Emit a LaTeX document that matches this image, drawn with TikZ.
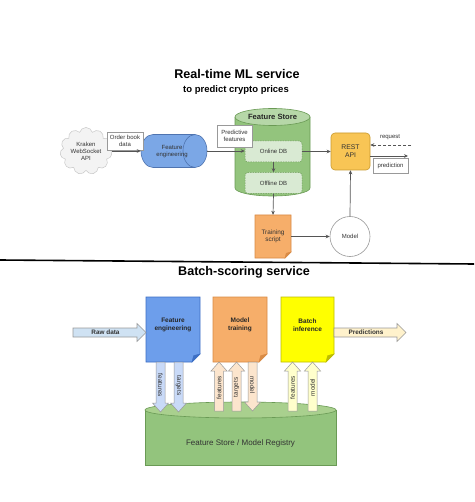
\documentclass[tikz,border=0pt]{standalone}
\usepackage{fontspec}
\setmainfont{Liberation Sans}
\usetikzlibrary{shapes.symbols,arrows.meta}
\definecolor{txt}{HTML}{333333}
\definecolor{connc}{HTML}{555555}
\definecolor{outline}{HTML}{999999}
\definecolor{cloudfill}{HTML}{F3F3F3}
\definecolor{cloudline}{HTML}{C8C8C8}
\definecolor{feblue}{HTML}{7BA7E6}
\definecolor{febluedk}{HTML}{4F74B0}
\definecolor{fsgreen}{HTML}{93C47D}
\definecolor{fsgreenlt}{HTML}{B6D7A8}
\definecolor{fsgreendk}{HTML}{6A9A55}
\definecolor{dbfill}{HTML}{D9EAD3}
\definecolor{restfill}{HTML}{F8C555}
\definecolor{restdk}{HTML}{C99A2E}
\definecolor{orangefill}{HTML}{F6AE6A}
\definecolor{orangedk}{HTML}{D98B45}
\definecolor{docblue}{HTML}{6D9EEB}
\definecolor{docbluedk}{HTML}{3D6FC4}
\definecolor{docyellow}{HTML}{FFFF00}
\definecolor{docyellowdk}{HTML}{BDBD00}
\definecolor{arrblue}{HTML}{C9DAF8}
\definecolor{arrpeach}{HTML}{FCE5CD}
\definecolor{arryellow}{HTML}{FFFFCC}
\definecolor{rawfill}{HTML}{CFE2F3}
\definecolor{predfill}{HTML}{FFF2CC}
\definecolor{regtop}{HTML}{A9D08E}

% document shape with folded bottom-right corner
\newcommand\docshape[7]{%
  \filldraw[fill=#6,draw=#7,line width=0.6pt] (#1,#2) -- (#3,#2) -- (#3,{#4-#5}) -- ({#3-#5},#4) -- (#1,#4) -- cycle;
  \filldraw[fill=#7,draw=#7,line width=0.4pt] ({#3-#5},#4) -- (#3,{#4-#5}) -- ({#3-0.8*#5},{#4-0.8*#5}) -- cycle;}
% horizontal fat arrow: x1 x2 yc fill name label
\newcommand\harrow[6]{%
  \filldraw[fill=#4,draw=outline,line width=0.6pt] (#1,{#3-4.5}) -- ({#2-9},{#3-4.5}) -- ({#2-9},{#3-9}) -- (#2,#3) -- ({#2-9},{#3+9}) -- ({#2-9},{#3+4.5}) -- (#1,{#3+4.5}) -- cycle;
  \node[fatlbl] (#5) at ({(#1+#2)/2-4},#3) {#6};}
% vertical fat arrow pointing down: x ytop ytip fill name label
\newcommand\vdownarr[6]{%
  \filldraw[fill=#4,draw=outline,line width=0.5pt] ({#1-4.5},#2) -- ({#1+4.5},#2) -- ({#1+4.5},{#3-9}) -- ({#1+8},{#3-9}) -- (#1,#3) -- ({#1-8},{#3-9}) -- ({#1-4.5},{#3-9}) -- cycle;
  \node[vlbl,rotate=-90] (#5) at (#1,{(#2+#3)/2-1.5}) {#6};}
% vertical fat arrow pointing up: x ytip ytail fill name label
\newcommand\vuparr[6]{%
  \filldraw[fill=#4,draw=outline,line width=0.5pt] ({#1-4.5},#3) -- ({#1-4.5},{#2+9}) -- ({#1-8},{#2+9}) -- (#1,#2) -- ({#1+8},{#2+9}) -- ({#1+4.5},{#2+9}) -- ({#1+4.5},#3) -- cycle;
  \node[vlbl,rotate=90] (#5) at (#1,{(#2+#3)/2+1}) {#6};}

\begin{document}
\begin{tikzpicture}[x=1pt,y=-1pt,
  conn/.style={draw=connc,line width=0.7pt,-{Stealth[length=4pt,width=3.6pt]}},
  lbl/.style={font=\fontsize{6}{6.9}\selectfont,text=txt,align=center,inner sep=0pt},
  smallbox/.style={lbl,draw=outline,fill=white,line width=0.5pt},
  dbbox/.style={lbl,draw=fsgreendk,fill=dbfill,rounded corners=3pt,dash pattern=on 1.5pt off 1pt,line width=0.5pt,minimum width=57,minimum height=21},
  titlefont/.style={font=\bfseries\fontsize{12.6}{14}\selectfont,text=black,inner sep=0pt,anchor=base},
  doctext/.style={font=\bfseries\fontsize{6.5}{7.8}\selectfont,text=black!85,align=center,inner sep=0pt},
  fatlbl/.style={font=\bfseries\fontsize{6.4}{7}\selectfont,text=black!80,inner sep=0pt},
  vlbl/.style={font=\fontsize{6.4}{7}\selectfont,text=txt,inner sep=0pt}
]
\useasboundingbox (0,0) rectangle (474,502);
\fill[white] (0,0) rectangle (474,502);

% ---------- Real-time ML service ----------
\node[titlefont] (title1) at (237,79) {Real-time ML service};
\node[titlefont,font=\bfseries\fontsize{9.5}{11}\selectfont] (sub1) at (236,93) {to predict crypto prices};

% Kraken cloud
\node[cloud,cloud puffs=11,aspect=1.1,draw=cloudline,fill=cloudfill,line width=0.5pt,
      minimum width=52,minimum height=47,lbl] (kraken) at (86,151) {Kraken\\WebSocket\\API};

% Feature engineering cylinder (horizontal)
\fill[feblue] (153,134.5) rectangle (195,167.5);
\fill[feblue] (153,151) ellipse[x radius=12,y radius=16.5];
\fill[feblue] (195,151) ellipse[x radius=12,y radius=16.5];
\draw[febluedk,line width=0.6pt] (195,134.5) -- (153,134.5) arc[start angle=270,end angle=90,x radius=12,y radius=16.5] -- (195,167.5);
\draw[febluedk,line width=0.6pt] (195,151) ellipse[x radius=12,y radius=16.5];
\node[inner sep=0pt,minimum width=66,minimum height=33] (fe) at (174,151) {};
\node[lbl] (fetext) at (172,152) {Feature\\engineering};

% Feature Store cylinder
\fill[fsgreen] (235,117) -- (235,188) arc[start angle=180,end angle=0,x radius=37.5,y radius=8] -- (310,117) -- cycle;
\draw[fsgreendk,line width=0.6pt] (235,117) -- (235,188) arc[start angle=180,end angle=0,x radius=37.5,y radius=8] -- (310,117);
\filldraw[fill=fsgreenlt,draw=fsgreendk,line width=0.6pt] (272.5,117) ellipse[x radius=37.5,y radius=8.5];
\node[font=\bfseries\fontsize{7.6}{9}\selectfont,text=black!85,inner sep=0pt] (fstitle) at (272.5,117) {Feature Store};
\node[dbbox] (online) at (273.5,151.5) {Online DB};
\node[dbbox] (offline) at (273.5,183) {Offline DB};

% label boxes
\node[smallbox,minimum width=36,minimum height=18] (obd) at (125,141) {Order book\\data};
\node[smallbox,minimum width=35,minimum height=22] (pf) at (234.5,136) {Predictive\\features};

% training script
\docshape{255}{215}{291}{258}{6}{orangefill}{orangedk}
\node[lbl,minimum width=36,minimum height=43,font=\fontsize{6.4}{7.6}\selectfont] (train) at (273,236.5) {Training\\script};

% model and REST API
\node[circle,draw=outline,fill=white,line width=0.6pt,minimum size=40,lbl] (model) at (350,236.5) {Model};
\node[lbl,rounded corners=4pt,draw=restdk,fill=restfill,line width=0.6pt,minimum width=39,minimum height=37,font=\fontsize{6.8}{7.9}\selectfont] (rest) at (350.5,151.5) {REST\\API};

% connectors
\draw[conn] (kraken.east |- fe.west) -- (fe.west);
\draw[conn] (fe.east) -- (fe.east -| online.west);
\draw[conn] (online.south) -- (offline.north);
\draw[conn] (offline.south) -- (train.north);
\draw[conn] (train.east) -- (model.west);
\draw[conn] (online.east) -- (rest.west);
\draw[conn] (model.north) -- (rest.south);
\coordinate (req) at (411,145);
\draw[conn,dashed,dash pattern=on 3pt off 2pt] (req) -- (req -| rest.east);
\node[lbl] (reqlbl) at (390,137) {request};
\coordinate (predend) at (408,156);
\draw[conn] (rest.east |- predend) -- (predend);
\node[smallbox,minimum width=35,minimum height=15] (predbox) at (390.5,165.5) {prediction};

% separator
\coordinate (sepL) at (0,260);
\coordinate (sepR) at (474,264);
\draw[line width=1.6pt] (sepL) -- (sepR);

% ---------- Batch-scoring service ----------
\node[titlefont] (title2) at (244,275) {Batch-scoring service};

% Feature Store / Model Registry cylinder
\fill[fsgreen] (145,410) rectangle (336,465);
\draw[fsgreendk,line width=0.6pt] (145,410) -- (145,465) -- (336,465) -- (336,410);
\filldraw[fill=regtop,draw=fsgreendk,line width=0.6pt] (240.5,410) ellipse[x radius=95.5,y radius=8];
\node[font=\fontsize{8}{9}\selectfont,text=txt,inner sep=0pt] (registry) at (240.5,443) {Feature Store / Model Registry};

% documents
\docshape{146}{297}{200}{362}{8}{docblue}{docbluedk}
\node[doctext] (bfe) at (173,325) {Feature\\engineering};
\docshape{213}{297}{267}{362}{8}{orangefill}{orangedk}
\node[doctext] (bmt) at (240,325) {Model\\training};
\docshape{281}{297}{334}{362}{8}{docyellow}{docyellowdk}
\node[doctext] (bbi) at (307.5,325) {Batch\\inference};

% fat arrows
\harrow{73}{146}{332.5}{rawfill}{rawdata}{Raw data}
\harrow{334}{406}{332.5}{predfill}{preds}{Predictions}

\vdownarr{160.5}{362}{412}{arrblue}{fefeat}{features}
\vdownarr{178.5}{362}{412}{arrblue}{fetarg}{targets}
\vuparr{219}{362}{411}{arrpeach}{mtfeat}{features}
\vuparr{236.5}{362}{411}{arrpeach}{mttarg}{targets}
\vdownarr{252.5}{362}{411}{arrpeach}{mtmodel}{model}
\vuparr{292.5}{362}{411}{arryellow}{bifeat}{features}
\vuparr{312.5}{362}{411}{arryellow}{bimodel}{model}
\end{tikzpicture}
\end{document}
